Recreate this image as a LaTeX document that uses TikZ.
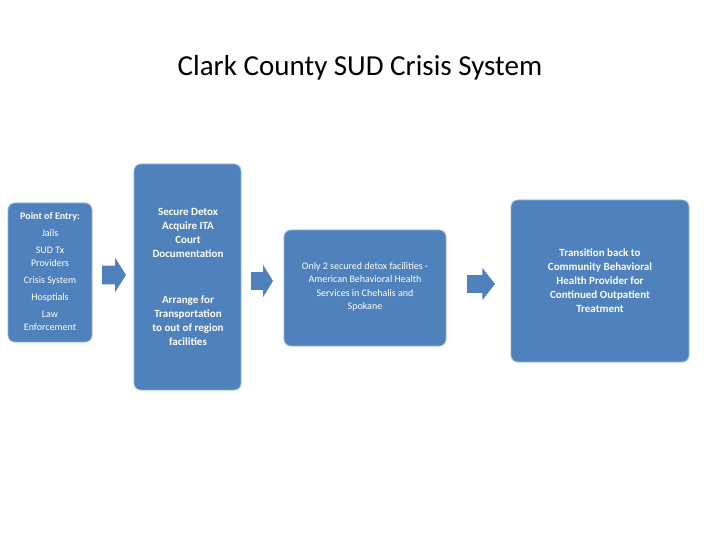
\documentclass[tikz,border=0pt]{standalone}
\usepackage{fontspec}
\setmainfont{Carlito}
\begin{document}
\begin{tikzpicture}[x=1pt,y=-1pt,
  blk/.style={fill=blue!0!white, draw=none},
  bbox/.style={fill=boxblue, draw=boxblue!60, line width=0.8pt, rounded corners=7pt},
  arr/.style={fill=boxblue, draw=none},
  txt/.style={text=white, align=center, font=\fontsize{11}{14}\selectfont\bfseries}]
\definecolor{boxblue}{HTML}{4F81BD}
\useasboundingbox[fill=white] (0,0) rectangle (720,540);
\node (title) at (360,68) {\fontsize{29}{34}\selectfont Clark County SUD Crisis System};
\draw[bbox] (8,203) rectangle (92,342);
\node[txt, font=\fontsize{10}{13}\selectfont, align=center] (b1) at (50,272) {\textbf{Point of Entry:}\\[4pt]Jails\\[4pt]SUD Tx\\Providers\\[4pt]Crisis System\\[4pt]Hosptials\\[4pt]Law\\Enforcement};
\draw[bbox] (134,164) rectangle (241,390);
\node[txt] (b2a) at (188,233) {Secure Detox\\Acquire ITA\\Court\\Documentation};
\node[txt] (b2b) at (188,321) {Arrange for\\Transportation\\to out of region\\facilities};
\draw[bbox] (284,230) rectangle (446,346);
\node[txt, font=\fontsize{10}{13.5}\selectfont] (b3) at (365,287) {Only 2 secured detox facilities -\\American Behavioral Health\\Services in Chehalis and\\Spokane};
\draw[bbox] (511,200) rectangle (689,362);
\node[txt] (b4) at (600,281) {Transition back to\\Community Behavioral\\Health Provider for\\Continued Outpatient\\Treatment};
\foreach \x/\y/\w/\h in {102/275/24/17, 251/281/22/16, 467/284/28/16}{
  \fill[arr] (\x,\y-0.55*\h) -- (\x+0.55*\w,\y-0.55*\h) -- (\x+0.55*\w,\y-\h) -- (\x+\w,\y) -- (\x+0.55*\w,\y+\h) -- (\x+0.55*\w,\y+0.55*\h) -- (\x,\y+0.55*\h) -- cycle;
}
\end{tikzpicture}
\end{document}
